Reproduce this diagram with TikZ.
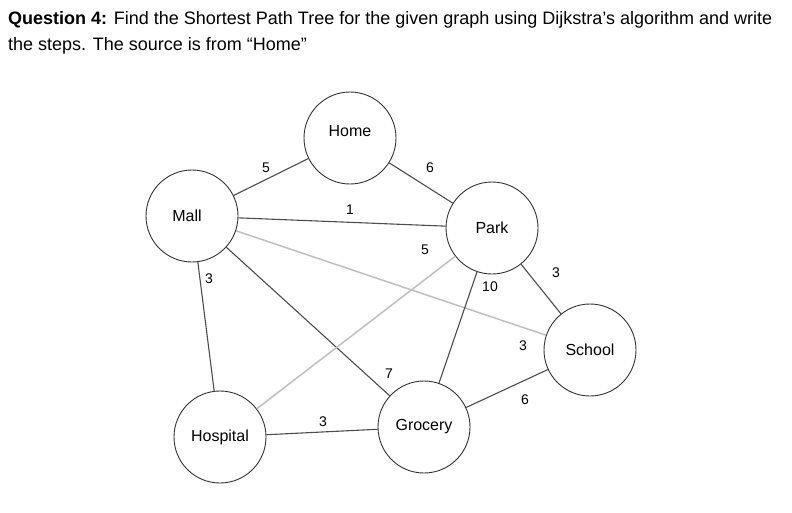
\documentclass[tikz,border=0pt]{standalone}
\usepackage{fontspec}
\setmainfont{Liberation Sans}
\begin{document}
\begin{tikzpicture}[x=1pt,y=-1pt,
  city/.style={circle,draw=black!80,line width=0.9pt,minimum size=92pt,inner sep=0pt,font=\fontsize{16}{19}\selectfont},
  road/.style={draw=black!70,line width=1.1pt},
  lite/.style={draw=black!25,line width=1.5pt},
  wt/.style={font=\fontsize{14}{16}\selectfont}]
\useasboundingbox (0,0) rectangle (792,512);
\node[anchor=base west,inner sep=0pt,font=\fontsize{18}{21}\selectfont] (t1) at (8,24) {\textbf{Question 4:} Find the Shortest Path Tree for the given graph using Dijkstra’s algorithm and write};
\node[anchor=base west,inner sep=0pt,font=\fontsize{18}{21}\selectfont] (t2) at (8,50) {the steps. The source is from “Home”};
\node[city] (home) at (350,138) {\raisebox{14pt}{Home}};
\node[city] (mall) at (192,216) {Mall\hspace*{10pt}};
\node[city] (park) at (492,228) {Park};
\node[city] (school) at (590,350) {School};
\node[city] (hosp) at (220,437) {Hospital};
\node[city] (groc) at (424,427) {Grocery};
\draw[road] (home) -- (mall);
\draw[road] (home) -- (park);
\draw[road] (mall) -- (park);
\draw[lite] (mall) -- (school);
\draw[road] (mall) -- (hosp);
\draw[road] (mall) -- (groc);
\draw[lite] (park) -- (hosp);
\draw[road] (park) -- (groc);
\draw[road] (park) -- (school);
\draw[road] (school) -- (groc);
\draw[road] (hosp) -- (groc);
\node[wt] (w1) at (266,168) {5};
\node[wt] (w2) at (430,168) {6};
\node[wt] (w3) at (350,210) {1};
\node[wt] (w4) at (425,250) {5};
\node[wt] (w5) at (490,287) {10};
\node[wt] (w6) at (556,273) {3};
\node[wt] (w7) at (209,279) {3};
\node[wt] (w8) at (389,374) {7};
\node[wt] (w9) at (523,346) {3};
\node[wt] (w10) at (525,400) {6};
\node[wt] (w11) at (323,422) {3};
\end{tikzpicture}
\end{document}
